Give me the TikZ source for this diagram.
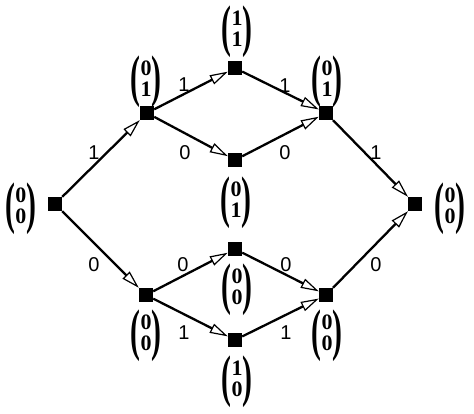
\documentclass[tikz,border=0pt]{standalone}
\usepackage{fontspec}
\setmainfont{Liberation Serif}
\newfontfamily\lblfont{Liberation Sans}
\usetikzlibrary{arrows.meta}
\newcommand{\cvec}[2]{%
  $\vcenter{\hbox{\scalebox{1.35}[2.6]{\fontsize{22}{20}\selectfont\bfseries(}}}%
  \vcenter{\hbox{\fontsize{22}{20.5}\selectfont\bfseries\begin{tabular}{@{}c@{}}#1\\#2\end{tabular}}}%
  \vcenter{\hbox{\scalebox{1.35}[2.6]{\fontsize{22}{20}\selectfont\bfseries)}}}$}
\tikzset{
  sq/.style={draw=none, fill=black, minimum size=14pt, inner sep=0pt},
  vec/.style={inner sep=0pt},
  edge/.style={line width=2.3pt, -{Triangle[fill=white, line width=1.2pt, length=18pt, width=10pt]}},
  lbl/.style={font=\lblfont\fontsize{20}{20}\selectfont, inner sep=0pt, midway}
}
\begin{document}
\begin{tikzpicture}[x=1pt, y=-1pt]
\useasboundingbox (0,0) rectangle (474,413);
% nodes
\node[sq] (A) at (55,204) {};
\node[sq] (B) at (147,113) {};
\node[sq] (C) at (235,68) {};
\node[sq] (D) at (235,160) {};
\node[sq] (E) at (326,113) {};
\node[sq] (F) at (415,204) {};
\node[sq] (G) at (146,295) {};
\node[sq] (H) at (235,249) {};
\node[sq] (I) at (235,340) {};
\node[sq] (J) at (326,295) {};
% vectors
\node[vec] (vA) at (21,209) {\cvec{0}{0}};
\node[vec] (vB) at (146,82) {\cvec{0}{1}};
\node[vec] (vC) at (237,32) {\cvec{1}{1}};
\node[vec] (vD) at (236,203) {\cvec{0}{1}};
\node[vec] (vE) at (327,82) {\cvec{0}{1}};
\node[vec] (vF) at (450,209) {\cvec{0}{0}};
\node[vec] (vG) at (146,336) {\cvec{0}{0}};
\node[vec] (vH) at (237,290) {\cvec{0}{0}};
\node[vec] (vI) at (237,382) {\cvec{1}{0}};
\node[vec] (vJ) at (327,336) {\cvec{0}{0}};
% edges
\draw[edge] (A) -- node[lbl, xshift=-7pt, yshift=5.5pt] {1} (B);
\draw[edge] (B) -- node[lbl, xshift=-7pt, yshift=5.5pt] {1} (C);
\draw[edge] (B) -- node[lbl, xshift=-6pt, yshift=-16.5pt] {0} (D);
\draw[edge] (C) -- node[lbl, xshift=4.5pt, yshift=4.5pt] {1} (E);
\draw[edge] (D) -- node[lbl, xshift=4.5pt, yshift=-16.5pt] {0} (E);
\draw[edge] (E) -- node[lbl, xshift=5.5pt, yshift=5.5pt] {1} (F);
\draw[edge] (A) -- node[lbl, xshift=-6.5pt, yshift=-15.5pt] {0} (G);
\draw[edge] (G) -- node[lbl, xshift=-7.5pt, yshift=7pt] {0} (H);
\draw[edge] (G) -- node[lbl, xshift=-6.5pt, yshift=-15.5pt] {1} (I);
\draw[edge] (H) -- node[lbl, xshift=5.5pt, yshift=7pt] {0} (J);
\draw[edge] (I) -- node[lbl, xshift=5.5pt, yshift=-15.5pt] {1} (J);
\draw[edge] (J) -- node[lbl, xshift=5.5pt, yshift=-15.5pt] {0} (F);
\end{tikzpicture}
\end{document}
